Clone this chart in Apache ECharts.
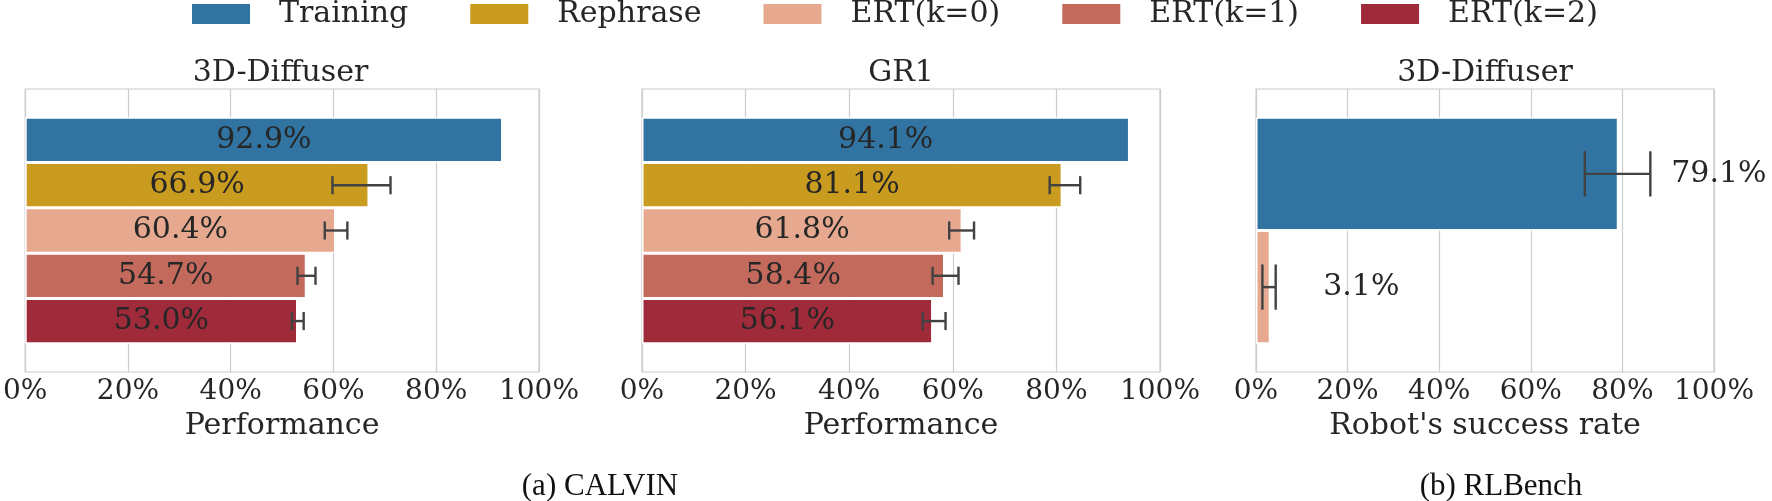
<!DOCTYPE html>
<html><head><meta charset="utf-8">
<script src="https://cdn.jsdelivr.net/npm/echarts@6/dist/echarts.min.js"></script>
<style>html,body{margin:0;padding:0;background:#fff}#c{width:1772px;height:501px}</style>
</head><body><div id="c"></div>
<script>
// ---- data ----
const hues = ['Training', 'Rephrase', 'ERT(k=0)', 'ERT(k=1)', 'ERT(k=2)'];
const xTicks = [0, 20, 40, 60, 80, 100];

const calvin3dMean = [92.9, 66.9, 60.4, 54.7, 53.0];
const calvin3dLow  = [null, 59.8, 58.3, 53.0, 51.9];
const calvin3dHigh = [null, 71.1, 62.7, 56.5, 54.2];

const calvinGr1Mean = [94.1, 81.1, 61.8, 58.4, 56.1];
const calvinGr1Low  = [null, 78.7, 59.3, 56.1, 54.2];
const calvinGr1High = [null, 84.6, 64.1, 61.1, 58.6];

const rlbenchHues = ['Training', 'ERT(k=0)'];
const rlbenchMean = [79.1, 3.1];
const rlbenchLow  = [71.8, 1.4];
const rlbenchHigh = [86.1, 4.3];

// ---- styles ----
const hueColors = {
  'Training': '#3274a1', 'Rephrase': '#c99b1f', 'ERT(k=0)': '#e6a98f',
  'ERT(k=1)': '#c46a5d', 'ERT(k=2)': '#9e2a3a'
};
const FONT = 'DejaVu Serif';
const TXT = '#262626';
const GRID = '#cccccc';

const panels = [
  { title: '3D-Diffuser', axisName: 'Performance', hues: hues, mean: calvin3dMean, low: calvin3dLow, high: calvin3dHigh,
    grid: { left: 22, top: 89, width: 517, height: 283 }, labelPos: 'inside' },
  { title: 'GR1', axisName: 'Performance', hues: hues, mean: calvinGr1Mean, low: calvinGr1Low, high: calvinGr1High,
    grid: { left: 642, top: 89, width: 518, height: 283 }, labelPos: 'inside' },
  { title: '3D-Diffuser', axisName: "Robot's success rate", hues: rlbenchHues, mean: rlbenchMean, low: rlbenchLow, high: rlbenchHigh,
    grid: { left: 1256, top: 89, width: 458, height: 283 }, labelPos: 'right' }
];

const grids = [], xAxes = [], yAxes = [], series = [], graphics = [];

panels.forEach((p, pi) => {
  grids.push(Object.assign({ show: true, borderColor: GRID, borderWidth: 1.2, backgroundColor: 'transparent' }, p.grid));
  xAxes.push({
    type: 'value', gridIndex: pi, min: xTicks[0], max: xTicks[xTicks.length - 1], interval: xTicks[1] - xTicks[0],
    axisLine: { show: false }, axisTick: { show: false },
    splitLine: { show: true, lineStyle: { color: GRID, width: 1.2 } },
    axisLabel: { formatter: v => v + '%', fontSize: 28, fontFamily: FONT, color: TXT, margin: 6 },
    name: p.axisName, nameLocation: 'middle', nameGap: 38,
    nameTextStyle: { fontSize: 30, fontFamily: FONT, color: TXT }
  });
  yAxes.push({
    type: 'category', gridIndex: pi, data: [''], inverse: true,
    axisLine: { show: false }, axisTick: { show: false }, axisLabel: { show: false }, splitLine: { show: false }
  });
  const n = p.hues.length;
  p.hues.forEach((h, hi) => {
    series.push({
      type: 'bar', name: h, xAxisIndex: pi, yAxisIndex: pi,
      data: [p.mean[hi]], barGap: '0%', barCategoryGap: '20%',
      itemStyle: { color: hueColors[h], borderColor: '#ffffff', borderWidth: 1.5 },
      label: {
        show: true, position: p.labelPos, distance: p.labelPos === 'right' ? 53 : 5,
        formatter: d => d.value.toFixed(1) + '%',
        fontSize: 30, fontFamily: FONT, color: TXT
      },
      emphasis: { disabled: true }, z: 2
    });
  });
  const errData = [];
  p.hues.forEach((h, hi) => {
    if (p.low[hi] != null) errData.push([p.low[hi], p.high[hi], 0, hi]);
  });
  series.push({
    type: 'custom', xAxisIndex: pi, yAxisIndex: pi, z: 5, silent: true,
    encode: { x: [0, 1], y: 2 },
    data: errData,
    renderItem: (params, api) => {
      const lo = api.value(0), up = api.value(1), hIdx = api.value(3);
      const a = api.coord([lo, 0]);
      const b = api.coord([up, 0]);
      const band = api.size([0, 1])[1];
      const thick = band * 0.8 / n;
      const y = a[1] + (hIdx - (n - 1) / 2) * thick;
      const cap = thick * 0.4 / 2;
      const st = { stroke: '#424242', lineWidth: 2.4 };
      return { type: 'group', children: [
        { type: 'line', shape: { x1: a[0], y1: y, x2: b[0], y2: y }, style: st },
        { type: 'line', shape: { x1: a[0], y1: y - cap, x2: a[0], y2: y + cap }, style: st },
        { type: 'line', shape: { x1: b[0], y1: y - cap, x2: b[0], y2: y + cap }, style: st }
      ]};
    }
  });
  graphics.push({
    type: 'text', x: p.grid.left + p.grid.width / 2, y: 73,
    style: { text: p.title, fontSize: 30, fontFamily: FONT, fill: TXT, textAlign: 'center', textVerticalAlign: 'middle' }
  });
});

graphics.push({ type: 'text', x: 600, y: 487,
  style: { text: '(a) CALVIN', fontSize: 31, fontFamily: 'Liberation Serif', fill: '#111', textAlign: 'center', textVerticalAlign: 'middle' } });
graphics.push({ type: 'text', x: 1501, y: 487,
  style: { text: '(b) RLBench', fontSize: 31, fontFamily: 'Liberation Serif', fill: '#111', textAlign: 'center', textVerticalAlign: 'middle' } });

const chart = echarts.init(document.getElementById('c'));
chart.setOption({
  animation: false,
  backgroundColor: '#ffffff',
  legend: {
    data: hues, left: 192, top: -3, padding: 0,
    icon: 'rect', itemWidth: 58, itemHeight: 20, itemGap: 62,
    itemStyle: { borderWidth: 0 },
    textStyle: { fontSize: 30, lineHeight: 30, fontFamily: FONT, color: TXT, padding: [4, 0, 0, 24] }
  },
  grid: grids, xAxis: xAxes, yAxis: yAxes, series: series, graphic: graphics
});
</script>
</body></html>
